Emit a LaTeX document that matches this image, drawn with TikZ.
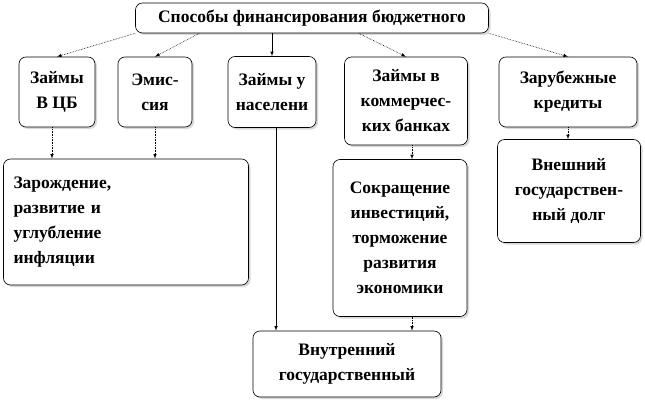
\documentclass[tikz,border=0pt]{standalone}
\usepackage{fontspec}
\setmainfont{Liberation Serif}
\usetikzlibrary{shadows}
\begin{document}
\begin{tikzpicture}[x = 1pt, y = -1pt, >= latex, % arrow head style
                semithick % line style
            ]

            \tikzset{box/.style={draw = black, rounded corners = 7pt, fill = white,
                drop shadow = {shadow xshift = 2pt, shadow yshift = -2pt, fill = gray!60},
                font = \fontsize{17.5}{25}\selectfont\bfseries, align = center, inner sep = 2pt},
                dots/.style={->, densely dotted}}

            \useasboundingbox (0,0) rectangle (645,404);

            \node[box, minimum width = 353pt, minimum height = 30pt] (top) at (312,18)
                {Способы финансирования бюджетного};
            \node[box, minimum width = 76pt, minimum height = 70pt] (cb) at (57,92)
                {Займы\\В ЦБ};
            \node[box, minimum width = 74pt, minimum height = 70pt] (em) at (155,92)
                {Эмис-\\сия};
            \node[box, minimum width = 88pt, minimum height = 71pt] (nas) at (272,92)
                {Займы у\\населени};
            \node[box, minimum width = 123pt, minimum height = 88pt] (kom) at (406,101)
                {Займы в\\коммерчес-\\ких банках};
            \node[box, minimum width = 138pt, minimum height = 70pt] (zar) at (568,92)
                {Зарубежные\\кредиты};
            \node[box, minimum width = 245pt, minimum height = 126pt, align = left,
                text width = 225pt] (inf) at (126,222)
                {Зарождение,\\развитие и\\углубление\\инфляции};
            \node[box, minimum width = 134pt, minimum height = 157pt] (sok) at (400,238)
                {Сокращение\\инвестиций,\\торможение\\развития\\экономики};
            \node[box, minimum width = 143pt, minimum height = 103pt] (vne) at (569,191)
                {Внешний\\государствен-\\ный долг};
            \node[box, minimum width = 188pt, minimum height = 66pt] (vnu) at (347,364)
                {Внутренний\\государственный};

            \draw[dots] (top.south west) -- (cb.north);
            \draw[dots] ([xshift = 64pt]top.south west) -- (em.north);
            \draw[->] (top.south -| nas.north) -- (nas.north);
            \draw[dots] ([xshift = -130pt]top.south east) -- (kom.north);
            \draw[dots] (top.south east) -- (zar.north);
            \draw[dots] ([xshift = -5pt]cb.south) -- ([xshift = -5pt]cb.south |- inf.north);
            \draw[dots] (em.south) -- (em.south |- inf.north);
            \draw[dots] ([xshift = 6pt]kom.south) -- ([xshift = 6pt]kom.south |- sok.north);
            \draw[dots] (zar.south) -- (zar.south |- vne.north);
            \draw[->] ([xshift = 4pt]nas.south) -- ([xshift = 4pt]nas.south |- vnu.north);
            \draw[->, densely dotted] ([xshift = 12pt]sok.south) -- ([xshift = 12pt]sok.south |- vnu.north);
        \end{tikzpicture}
\end{document}
